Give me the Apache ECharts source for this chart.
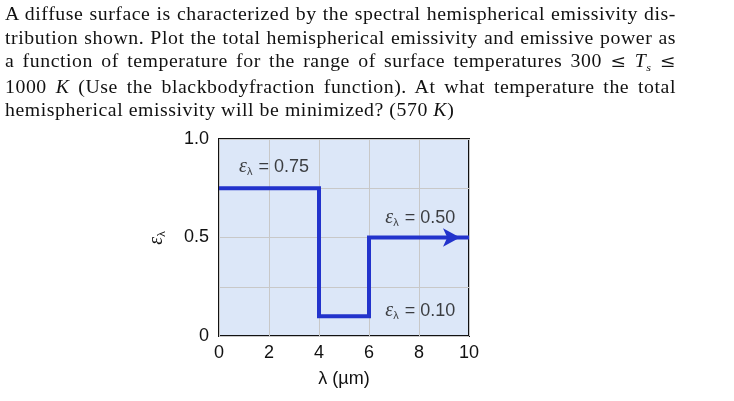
<!DOCTYPE html>
<html>
<head>
<meta charset="utf-8">
<script src="https://cdn.jsdelivr.net/npm/echarts@6/dist/echarts.min.js"></script>
<style>
  html, body { margin: 0; padding: 0; background: #fff; }
  #wrap { position: relative; width: 734px; height: 401px; overflow: hidden; }
  #chart { position: absolute; left: 0; top: 0; width: 734px; height: 401px; }
  #para { position: absolute; left: 5px; top: 3px; width: 610px; transform: scaleX(1.1); transform-origin: 0 0;
          font-family: 'Liberation Serif', serif; font-size: 18px; letter-spacing: 0.5px; line-height: 23.5px; color: #111; z-index: 2; }
  #para .j { text-align: justify; text-align-last: justify; white-space: nowrap; }
  #para .sub { position: relative; top: 4px; font-size: 11px; font-style: italic; }
  #para .le { font-family: 'DejaVu Serif', serif; font-size: 17px; line-height: 10px; }
</style>
</head>
<body>
<div id="wrap">
  <div id="chart"></div>
  <div id="para">
    <div class="j">A diffuse surface is characterized by the spectral hemispherical emissivity dis-</div>
    <div class="j">tribution shown. Plot the total hemispherical emissivity and emissive power as</div>
    <div class="j">a function of temperature for the range of surface temperatures 300 <span class="le">&le;</span> <i>T</i><span class="sub">s</span> <span class="le">&le;</span></div>
    <div class="j">1000 <i>K</i> (Use the blackbodyfraction function). At what temperature the total</div>
    <div>hemispherical emissivity will be minimized? (570 <i>K</i>)</div>
  </div>
</div>
<script>
// Band edges (µm) and spectral emissivity in each band
const bandEdges = [0, 4, 6, 10];
const bandEmissivity = [0.75, 0.10, 0.50];
// Label anchor points (data coords) for each band's annotation
const labelX = [0.8, 6.65, 6.65];
const labelY = [0.86, 0.127, 0.60];
const xTicks = [0, 2, 4, 6, 8, 10];
const yTickLabels = { 0: '0', 0.5: '0.5', 1: '1.0' };

// Build step line from bands
const stepData = [];
for (let i = 0; i < bandEmissivity.length; i++) {
  stepData.push([bandEdges[i], bandEmissivity[i]]);
  stepData.push([bandEdges[i + 1], bandEmissivity[i]]);
}
const lineItems = stepData.map((p, i) => {
  if (i === stepData.length - 1) {
    return { value: p, symbol: 'arrow', symbolSize: [14, 17], symbolRotate: -90, symbolOffset: [-9, 0] };
  }
  return { value: p, symbol: 'none' };
});

const labelItems = bandEmissivity.map((v, i) => ({
  value: [labelX[i], labelY[i]],
  label: { formatter: '{e|ε}{s|λ}{t| = ' + v.toFixed(2) + '}' }
}));

const rich = {
  e: { fontFamily: 'Liberation Serif', fontStyle: 'italic', fontSize: 20, color: '#111' },
  s: { fontFamily: 'Liberation Sans', fontSize: 11, color: '#111', padding: [10, 1, 0, 0] },
  t: { fontFamily: 'Liberation Sans', fontSize: 18, color: '#111' }
};

const chart = echarts.init(document.getElementById('chart'), null, { renderer: 'canvas' });
chart.setOption({
  animation: false,
  backgroundColor: '#fff',
  grid: {
    left: 219, right: 265, top: 139, bottom: 65,
    show: true, backgroundColor: '#dce7f8', borderColor: '#111', borderWidth: 2
  },
  xAxis: {
    type: 'value', min: xTicks[0], max: xTicks[xTicks.length - 1], interval: 2,
    axisLine: { show: false }, axisTick: { show: false },
    splitLine: { show: true, lineStyle: { color: '#c8c8c8', width: 1 } },
    axisLabel: { margin: 8, fontFamily: 'Liberation Sans', fontSize: 18, color: '#111' },
    name: 'λ (µm)', nameLocation: 'middle', nameGap: 34,
    nameTextStyle: { fontFamily: 'Liberation Sans', fontSize: 18, color: '#111' }
  },
  yAxis: {
    type: 'value', min: 0, max: 1, interval: 0.25,
    axisLine: { show: false }, axisTick: { show: false },
    splitLine: { show: true, lineStyle: { color: '#c8c8c8', width: 1 } },
    axisLabel: {
      margin: 10, fontFamily: 'Liberation Sans', fontSize: 18, color: '#111',
      formatter: v => (yTickLabels[v] !== undefined ? yTickLabels[v] : '')
    },
    name: '{e|ε}{s|λ}', nameLocation: 'middle', nameGap: 52, nameRotate: 90,
    nameTextStyle: { rich: rich }
  },
  series: [
    {
      type: 'line', data: lineItems, symbol: 'none', showSymbol: true,
      lineStyle: { color: '#2233cc', width: 4, cap: 'butt', join: 'miter' },
      itemStyle: { color: '#2233cc' }, z: 3, silent: true
    },
    {
      type: 'scatter', data: labelItems, symbolSize: 0, silent: true,
      label: { show: true, position: 'right', distance: 0, rich: rich }
    }
  ]
});
</script>
</body>
</html>
